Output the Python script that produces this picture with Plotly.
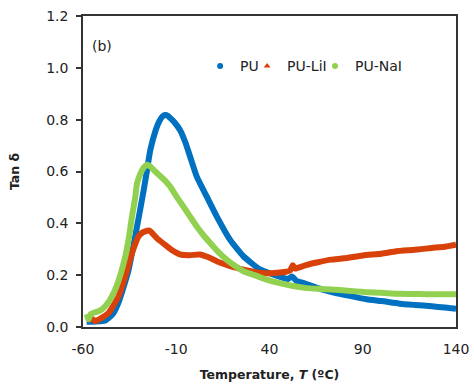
import plotly.graph_objects as go

# ---- data ----
pu_T = [-58, -55, -51, -48, -44, -41, -38, -35.5, -32, -28.4, -26, -23.9, -21, -19, -17.5, -16, -14.5, -13, -11,
        -8, -5, -2.6, 1, 6.3, 11.7, 18.8, 26, 34.9, 41, 47.4, 50, 52, 54.6, 58, 62, 68, 75, 83, 92, 100, 110, 118,
        127, 134, 140]
pu_y = [0.02, 0.02, 0.022, 0.025, 0.05, 0.094, 0.16, 0.222, 0.35, 0.49, 0.59, 0.683, 0.76, 0.795, 0.812, 0.818,
        0.815, 0.805, 0.79, 0.76, 0.71, 0.658, 0.58, 0.504, 0.427, 0.337, 0.273, 0.222, 0.205, 0.19, 0.185, 0.195,
        0.177, 0.17, 0.16, 0.145, 0.132, 0.12, 0.107, 0.10, 0.09, 0.085, 0.08, 0.075, 0.07]

lii_T = [-58, -55, -53.4, -50, -46.2, -43.5, -40.9, -37.3, -33.7, -30.2, -28, -26.6, -25, -24, -20, -15.1, -12, -8,
         -3, 2.7, 7, 11.7, 17, 22.4, 28, 35, 40, 43.9, 48, 51, 52.5, 53.7, 55, 60, 66, 73, 80, 90, 100, 108, 118,
         127, 134, 140]
lii_y = [0.03, 0.03, 0.023, 0.035, 0.055, 0.085, 0.119, 0.196, 0.286, 0.35, 0.365, 0.369, 0.372, 0.37, 0.34,
         0.312, 0.295, 0.28, 0.277, 0.28, 0.27, 0.254, 0.24, 0.228, 0.218, 0.209, 0.207, 0.209, 0.212, 0.218, 0.238,
         0.226, 0.228, 0.24, 0.25, 0.26, 0.265, 0.276, 0.283, 0.292, 0.298, 0.305, 0.31, 0.318]

nai_T = [-58, -57, -56, -52, -49.8, -46, -42.7, -40, -37.3, -35.5, -33.7, -32, -31, -29, -27.5, -25.7, -24, -22,
         -19, -16, -13.3, -10, -6.2, -2.5, 1, 4.5, 8.1, 12.5, 17, 21, 26, 32, 38.5, 45, 52.7, 60, 67, 73, 82, 91,
         100, 109, 120, 130, 140]
nai_y = [0.05, 0.03, 0.049, 0.06, 0.068, 0.10, 0.145, 0.20, 0.273, 0.34, 0.427, 0.50, 0.555, 0.595, 0.615, 0.626,
         0.62, 0.605, 0.585, 0.565, 0.542, 0.505, 0.465, 0.425, 0.388, 0.355, 0.325, 0.29, 0.26, 0.238, 0.215, 0.20,
         0.183, 0.17, 0.158, 0.15, 0.147, 0.145, 0.14, 0.135, 0.132, 0.128, 0.127, 0.126, 0.126]

x_ticks = [-60, -10, 40, 90, 140]
y_ticks = [0.0, 0.2, 0.4, 0.6, 0.8, 1.0, 1.2]

names = ["PU", "PU-LiI", "PU-NaI"]
colors = ["#0070C0", "#D9410B", "#92D050"]
symbols = ["circle", "triangle-up", "circle"]
legend_ids = ["legend", "legend2", "legend3"]
legend_x = [0.314, 0.44, 0.622]
series = [(pu_T, pu_y), (lii_T, lii_y), (nai_T, nai_y)]

FONT = "'DejaVu Sans', Verdana, sans-serif"
TXT = "#222222"

fig = go.Figure()
for (tx, ty), name, col in zip(series, names, colors):
    fig.add_trace(go.Scatter(x=tx, y=ty, mode="lines", name=name,
                             line=dict(color=col, width=6, shape="spline", smoothing=0.5),
                             showlegend=False, legendgroup=name))
# legend entries (marker symbols as in the reference), one small legend each
for name, col, sym, lid in zip(names, colors, symbols, legend_ids):
    fig.add_trace(go.Scatter(x=[None], y=[None], mode="markers", name=name,
                             marker=dict(color=col, symbol=sym, size=6),
                             legendgroup=name, showlegend=True, legend=lid))

leg_common = dict(orientation="h", y=0.838, xanchor="left", yanchor="middle",
                  bgcolor="rgba(0,0,0,0)", font=dict(family=FONT, size=14, color=TXT),
                  itemwidth=30)

fig.update_layout(
    width=474, height=387,
    margin=dict(l=83, r=18, t=16, b=60, autoexpand=False),
    paper_bgcolor="white", plot_bgcolor="white",
    font=dict(family=FONT, size=14, color=TXT),
    legend=dict(x=legend_x[0], **leg_common),
    legend2=dict(x=legend_x[1], **leg_common),
    legend3=dict(x=legend_x[2], **leg_common),
    annotations=[dict(text="(b)", x=0.02, y=0.905, xref="paper", yref="paper",
                      xanchor="left", yanchor="middle", showarrow=False,
                      font=dict(family=FONT, size=14, color=TXT))],
)
fig.update_xaxes(range=[-60, 140], tickvals=x_ticks, ticktext=[str(v) for v in x_ticks],
                 showgrid=False, zeroline=False, showline=True, linecolor="#333333", linewidth=1.5,
                 mirror=True, ticks="", ticklabelstandoff=8, automargin=False,
                 tickfont=dict(family=FONT, size=14, color=TXT),
                 title=dict(text="<b>Temperature, <i>T</i> (ºC)</b>",
                            font=dict(family=FONT, size=12.5, color=TXT), standoff=15))
fig.update_yaxes(range=[0, 1.2], tickvals=y_ticks, ticktext=[f"{v:.1f}" for v in y_ticks],
                 showgrid=False, zeroline=False, showline=True, linecolor="#333333", linewidth=1.5,
                 mirror=True, ticks="outside", ticklen=5, tickcolor="#333333", tickwidth=1.5,
                 ticklabelstandoff=5, automargin=False,
                 tickfont=dict(family=FONT, size=14, color=TXT),
                 title=dict(text="<b>Tan δ</b>", font=dict(family=FONT, size=12.5, color=TXT), standoff=24))

# remove the default 8px body margin so the figure fills the window exactly
fig.write_html("out.html", config=dict(displayModeBar=False),
               post_script="document.body.style.margin='0';document.body.style.overflow='hidden';")
